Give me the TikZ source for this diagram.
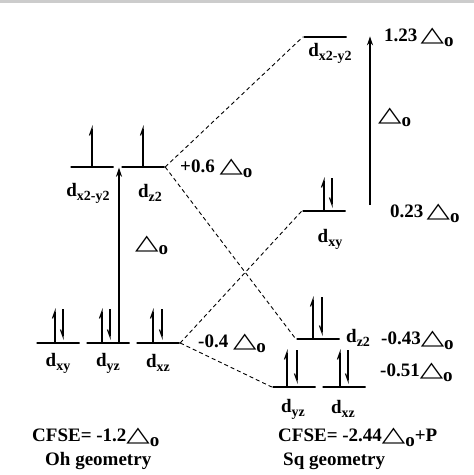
\documentclass[tikz,border=0pt]{standalone}
\usepackage{fontspec}
\setmainfont{Liberation Serif}
\newfontfamily\symf{DejaVu Sans}
\usetikzlibrary{positioning,arrows.meta,calc}

\newcommand\Dlt{{\symf\scalebox{1.45}[1]{\fontsize{21}{21}\selectfont △}}\raisebox{-5pt}{o}}
\newcommand\orb[1]{d\raisebox{-4pt}{\fontsize{14}{15}\selectfont #1}}

\begin{document}
\begin{tikzpicture}[x=1pt,y=-1pt,
  every node/.style={font=\fontsize{19}{21}\selectfont\bfseries, inner sep=0pt},
  level/.style={draw, line width=1.4pt, minimum height=0pt, minimum width=43pt},
  link/.style={dashed, line width=0.9pt, dash pattern=on 4pt off 3pt},
  gap/.style={-{Stealth[length=9pt,width=6pt]}, line width=1.2pt},
  eup/.style={-{Straight Barb[harpoon,length=7pt,width=5pt]}, line width=1.2pt},
  edown/.style={-{Straight Barb[harpoon,swap,length=7pt,width=5pt]}, line width=1.2pt}
]
\useasboundingbox (0,0) rectangle (474,475);
\fill[gray!40] (0,0) rectangle (474,3);

% Oh levels
\node[level] (egA) at (92,167) {};
\node[level] (egB) at (143,167) {};
\node[level] (dxyO) at (58,343) {};
\node[level] (dyzO) at (108,343) {};
\node[level] (dxzO) at (158,343) {};

% Sq levels
\node[level] (sqX) at (325,37) {};
\node[level] (sqXY) at (324,211) {};
\node[level] (sqZ) at (318,339) {};
\node[level] (sqYZ) at (294,387) {};
\node[level] (sqXZ) at (344,387) {};

% correlation lines
\draw[link] (egB.east) -- (sqX.west);
\draw[link] (egB.east) -- (sqZ.west);
\draw[link] (dxzO.east) -- (sqXY.west);
\draw[link] (dxzO.east) -- (sqYZ.west);

% electrons
\foreach \o in {egA,egB}
  \draw[eup] ($(\o.center)+(0,-1)$) -- ++(0,-41);
\foreach \o/\u/\d/\h in {dxyO/-3/5/34, dyzO/-6/2/34, dxzO/-5/4/34,
    sqXY/0/8/33, sqZ/-5/4/42, sqYZ/-7/3/37, sqXZ/-4/4/37} {
  \draw[eup] ($(\o.center)+(\u,-1)$) -- ++(0,-\h);
  \draw[edown] ($(\o.center)+(\d,-\h)$) -- ++(0,\h-3);
}

% splitting arrows
\coordinate (gapO) at (119,343);
\coordinate (gapS) at (370,205);
\draw[gap] (gapO) -- (gapO |- egA.south);
\draw[gap] (gapS) -- (gapS |- sqX.north);

% orbital labels
\node (lxA) at (88,193) {\orb{x2-y2}};
\node (lxB) at (150,193) {\orb{z2}};
\node (lxy) at (58,363) {\orb{xy}};
\node (lyz) at (108,363) {\orb{yz}};
\node (lxz) at (158,363) {\orb{xz}};
\node (lsX) at (330,53) {\orb{x2-y2}};
\node (lsXY) at (330,239) {\orb{xy}};
\node[anchor=west] (lsZ) at (346,338) {\orb{z2}};
\node (lsYZ) at (293,409) {\orb{yz}};
\node (lsXZ) at (343,409) {\orb{xz}};

% energies
\node[anchor=west] (eg) at (180,168) {+0.6 \Dlt};
\node[anchor=west] (t2g) at (198,343) {-0.4 \Dlt};
\node[anchor=west] (dO) at (135,245) {\Dlt};
\node[anchor=west] (e1) at (384,37) {1.23\,\Dlt};
\node[anchor=west] (dS) at (378,117) {\Dlt};
\node[anchor=west] (e2) at (390,213) {0.23\,\Dlt};
\node[anchor=west] (e3) at (381,340) {-0.43\Dlt};
\node[anchor=west] (e4) at (380,372) {-0.51\Dlt};

% totals
\node[anchor=west] (cfO) at (32,437) {CFSE= -1.2\Dlt};
\node[anchor=west] (gO) at (45,461) {Oh geometry};
\node[anchor=west] (cfS) at (278,437) {CFSE= -2.44\Dlt+P};
\node[anchor=west] (gS) at (283,461) {Sq geometry};
\end{tikzpicture}
\end{document}
